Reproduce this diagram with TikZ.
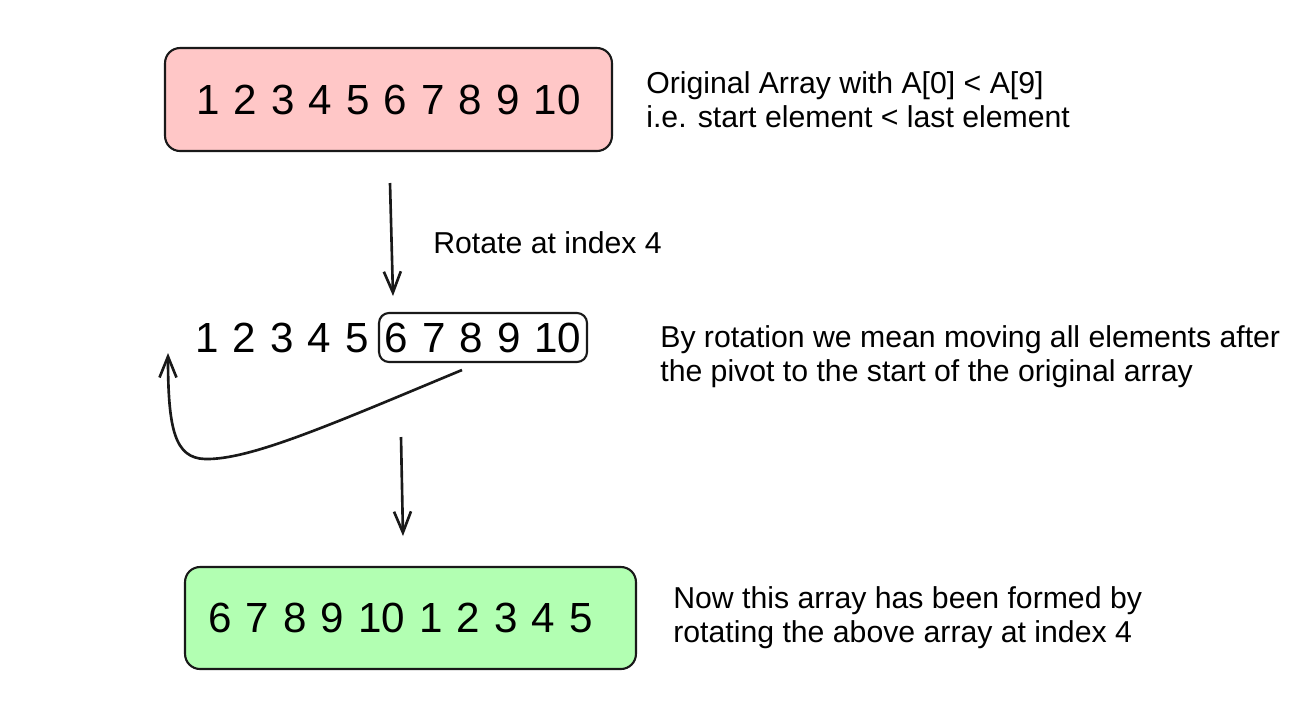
\documentclass[tikz,border=0pt]{standalone}
\usepackage{fontspec}
\setmainfont{Liberation Sans}
\newfontfamily\digitfont[WordSpace=1.2]{Liberation Sans}
\usetikzlibrary{positioning, arrows.meta}

\begin{document}
\begin{tikzpicture}[x=0.02cm, y=-0.02cm]
    % --- Styles ---
    \tikzstyle{array_box}=[
        draw=black!90, 
        line width=1.2pt, 
        rounded corners=0.3cm, 
        font=\digitfont\fontsize{24}{28}\selectfont
    ]
    \tikzstyle{note_text}=[
        inner sep=0pt, 
        align=left, 
        anchor=west, 
        font=\fontsize{17.2}{19.4}\selectfont
    ]
    \tikzstyle{flow_arrow}=[
        -{Straight Barb[length=0.42cm, width=0.34cm]}, 
        line width=1.5pt, 
        color=black!90
    ]

    \useasboundingbox (0,0) rectangle (1312,708);

    % --- 1. Original array ---
    \node[array_box, fill=red!22, minimum width=8.94cm, minimum height=2.06cm] (orig) at (388.5, 99.5) {1 2 3 4 5 6 7 8 9 10};
    \node[note_text, right=0.66cm of orig] (origNote) {Original Array with A[0] < A[9] \\ i.e. start element < last element};

    % --- 2. Rotation ---
    \coordinate (rotTop) at (390, 183);
    \coordinate (rotBot) at (393, 296);
    \draw[flow_arrow] (rotTop) -- (rotBot);
    \node[note_text] (rotNote) at (433, 243) {Rotate at index 4};

    % split row: head stays, tail moves
    \node[array_box, fill=none, rounded corners=0.2cm, inner sep=2pt, minimum width=4.16cm, minimum height=0.98cm] (tail) at (483, 337.5) {6 7 8 9 10};
    \node[font=\digitfont\fontsize{24}{28}\selectfont, left=0.06cm of tail] (head) {1 2 3 4 5};
    \node[note_text] (midNote) at (660, 357) {By rotation we mean moving all elements after \\ the pivot to the start of the original array};

    % moving the tail to the front
    \coordinate (moveFrom) at (462, 370);
    \coordinate (moveTo) at (168, 353);
    \draw[flow_arrow] (moveFrom) .. controls (330, 425) and (250, 460) .. (205, 459)
        .. controls (175, 458) and (168, 430) .. (moveTo);

    % --- 3. Result ---
    \coordinate (resTop) at (401, 437);
    \coordinate (resBot) at (403, 536);
    \draw[flow_arrow] (resTop) -- (resBot);

    \node[array_box, fill=green!30!white, minimum width=9.02cm, minimum height=2.04cm] (result) at (410.5, 618) {6 7 8 9 10 1 2 3 4 5\hspace*{0.4cm}};
    \node[note_text, right=0.72cm of result] (resNote) {Now this array has been formed by \\ rotating the above array at index 4};

\end{tikzpicture}
\end{document}
